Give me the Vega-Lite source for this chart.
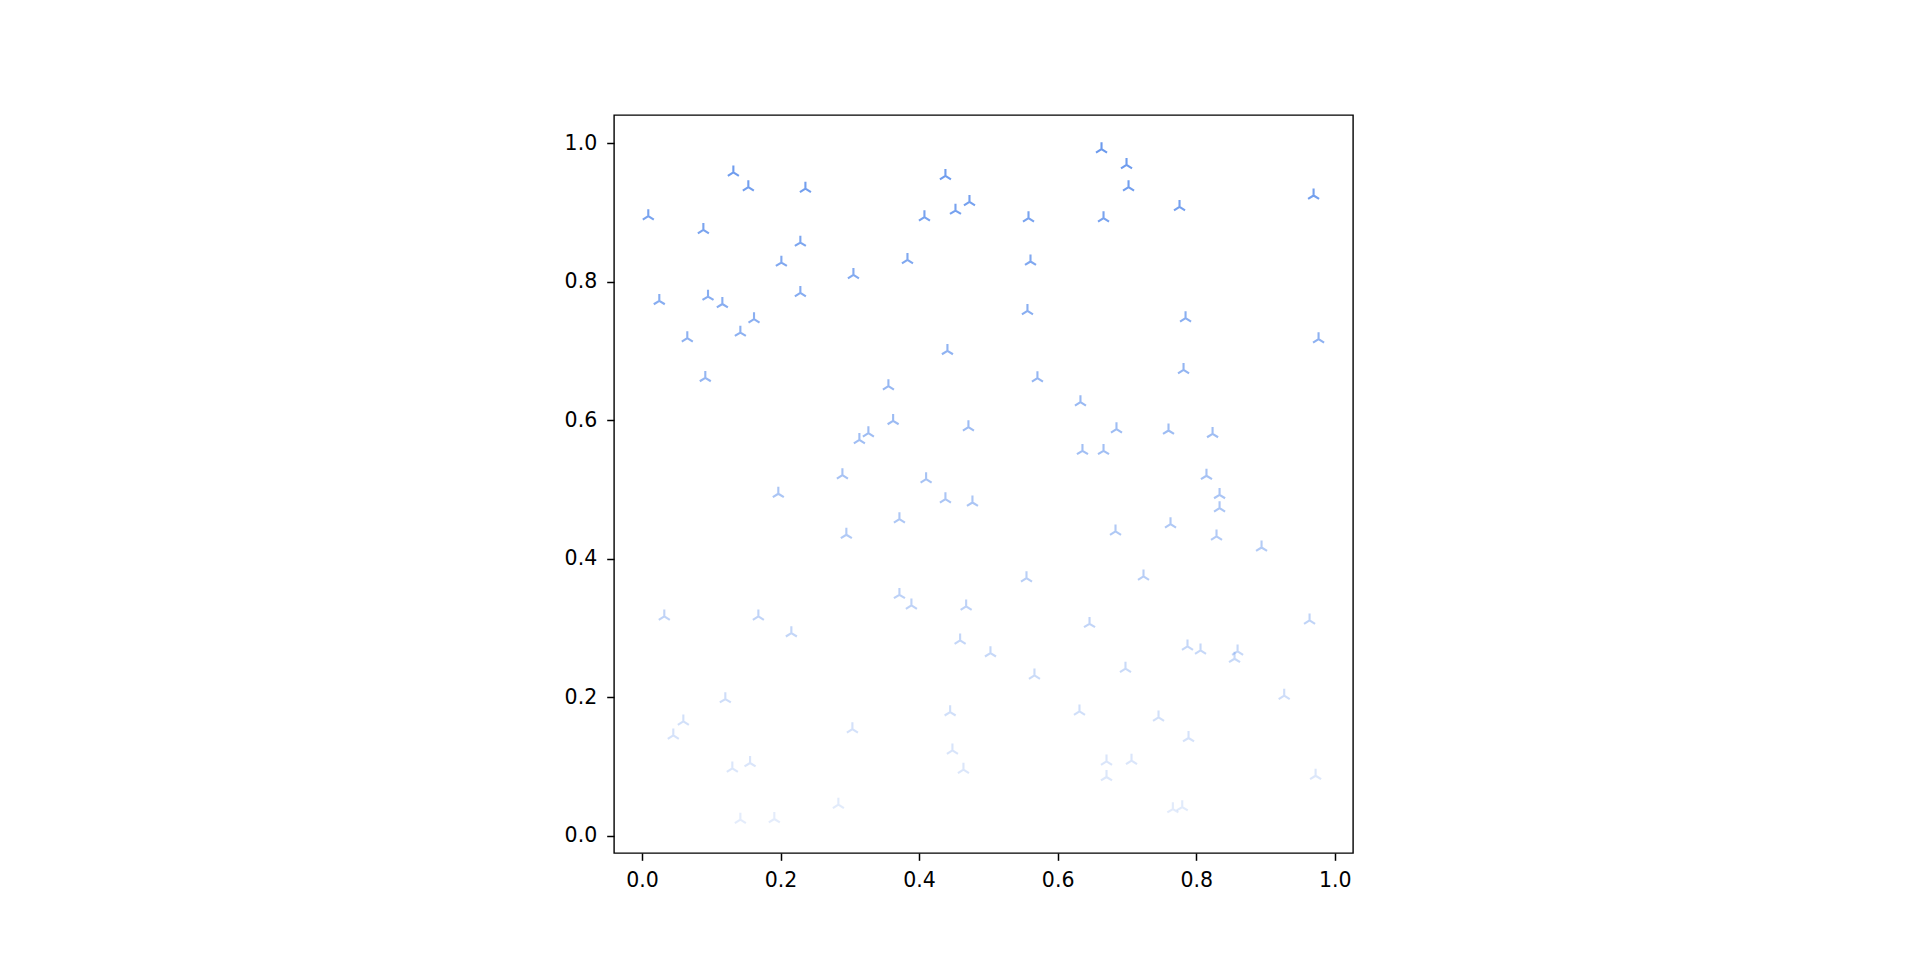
{
  "$schema": "https://vega.github.io/schema/vega-lite/v6.json",
  "width": 739,
  "height": 738,
  "autosize": "none",
  "padding": {"left": 614, "top": 115, "right": 567, "bottom": 107},
  "background": "white",
  "config": {
    "view": {"stroke": "black", "strokeWidth": 1.4},
    "axis": {
      "grid": false,
      "domain": false,
      "labelFont": "DejaVu Sans",
      "labelFontSize": 20.5,
      "labelColor": "black",
      "tickColor": "black",
      "tickSize": 7.3,
      "tickWidth": 1.5,
      "labelPadding": 10,
      "title": null
    }
  },
  "data": {
    "values": [
      {"x": 0.0091, "y": 0.895}, {"x": 0.1319, "y": 0.958}, {"x": 0.1535, "y": 0.9367}, {"x": 0.2359, "y": 0.9347},
      {"x": 0.0886, "y": 0.875}, {"x": 0.2286, "y": 0.8568}, {"x": 0.2012, "y": 0.8279}, {"x": 0.3052, "y": 0.810},
      {"x": 0.3832, "y": 0.8318}, {"x": 0.438, "y": 0.953}, {"x": 0.4077, "y": 0.8934}, {"x": 0.4525, "y": 0.903},
      {"x": 0.4727, "y": 0.9155}, {"x": 0.025, "y": 0.7726}, {"x": 0.0953, "y": 0.7788}, {"x": 0.116, "y": 0.768},
      {"x": 0.2286, "y": 0.784}, {"x": 0.1617, "y": 0.746}, {"x": 0.142, "y": 0.7268}, {"x": 0.0654, "y": 0.7187},
      {"x": 0.0914, "y": 0.6614}, {"x": 0.4409, "y": 0.7004}, {"x": 0.3557, "y": 0.6494}, {"x": 0.3625, "y": 0.5993},
      {"x": 0.3268, "y": 0.5815}, {"x": 0.3138, "y": 0.5718}, {"x": 0.4712, "y": 0.5902}, {"x": 0.2893, "y": 0.5208},
      {"x": 0.4101, "y": 0.515}, {"x": 0.6633, "y": 0.9916}, {"x": 0.6994, "y": 0.969}, {"x": 0.7023, "y": 0.9367},
      {"x": 0.7759, "y": 0.9083}, {"x": 0.9694, "y": 0.9247}, {"x": 0.5579, "y": 0.892}, {"x": 0.6662, "y": 0.892},
      {"x": 0.5608, "y": 0.8294}, {"x": 0.5564, "y": 0.7581}, {"x": 0.7846, "y": 0.7476}, {"x": 0.9766, "y": 0.7172},
      {"x": 0.7817, "y": 0.6729}, {"x": 0.5708, "y": 0.661}, {"x": 0.6329, "y": 0.6263}, {"x": 0.6849, "y": 0.5872},
      {"x": 0.76, "y": 0.5853}, {"x": 0.8236, "y": 0.5805}, {"x": 0.6358, "y": 0.556}, {"x": 0.6662, "y": 0.556},
      {"x": 0.8148, "y": 0.5199}, {"x": 0.1968, "y": 0.4939}, {"x": 0.438, "y": 0.4862}, {"x": 0.477, "y": 0.4813},
      {"x": 0.3716, "y": 0.4573}, {"x": 0.295, "y": 0.4347}, {"x": 0.0322, "y": 0.3167}, {"x": 0.168, "y": 0.3167},
      {"x": 0.2156, "y": 0.2927}, {"x": 0.3716, "y": 0.348}, {"x": 0.3889, "y": 0.3326}, {"x": 0.4679, "y": 0.3311},
      {"x": 0.4592, "y": 0.282}, {"x": 0.503, "y": 0.2638}, {"x": 0.1203, "y": 0.1974}, {"x": 0.0597, "y": 0.165},
      {"x": 0.0452, "y": 0.1448}, {"x": 0.3037, "y": 0.154}, {"x": 0.1304, "y": 0.0972}, {"x": 0.156, "y": 0.105},
      {"x": 0.4448, "y": 0.1786}, {"x": 0.4481, "y": 0.1232}, {"x": 0.464, "y": 0.0953}, {"x": 0.2835, "y": 0.0448},
      {"x": 0.142, "y": 0.0231}, {"x": 0.191, "y": 0.0241}, {"x": 0.8337, "y": 0.4924}, {"x": 0.8337, "y": 0.4732},
      {"x": 0.7629, "y": 0.4501}, {"x": 0.6835, "y": 0.4395}, {"x": 0.8293, "y": 0.4322}, {"x": 0.8943, "y": 0.4163},
      {"x": 0.555, "y": 0.3721}, {"x": 0.7239, "y": 0.3745}, {"x": 0.646, "y": 0.3061}, {"x": 0.9636, "y": 0.3109},
      {"x": 0.5665, "y": 0.2315}, {"x": 0.6979, "y": 0.2412}, {"x": 0.7874, "y": 0.2734}, {"x": 0.8062, "y": 0.2676},
      {"x": 0.8597, "y": 0.2662}, {"x": 0.8553, "y": 0.2556}, {"x": 0.927, "y": 0.2022}, {"x": 0.6315, "y": 0.1795},
      {"x": 0.7456, "y": 0.1708}, {"x": 0.7889, "y": 0.1411}, {"x": 0.6705, "y": 0.1073}, {"x": 0.7066, "y": 0.1083},
      {"x": 0.6705, "y": 0.0848}, {"x": 0.9723, "y": 0.0866}, {"x": 0.7663, "y": 0.0385}, {"x": 0.7798, "y": 0.0414}
    ]
  },
  "mark": {
    "type": "point",
    "shape": "M0,0L0,-1M0,0L0.8,0.5M0,0L-0.8,0.5",
    "filled": false,
    "stroke": "#6495ED",
    "strokeWidth": 2.1,
    "size": 190
  },
  "encoding": {
    "x": {
      "field": "x", "type": "quantitative",
      "scale": {"domain": [-0.0404, 1.0263], "nice": false, "zero": false},
      "axis": {"values": [0, 0.2, 0.4, 0.6, 0.8, 1.0], "format": ".1f"}
    },
    "y": {
      "field": "y", "type": "quantitative",
      "scale": {"domain": [-0.025, 1.041], "nice": false, "zero": false},
      "axis": {"values": [0, 0.2, 0.4, 0.6, 0.8, 1.0], "format": ".1f"}
    },
    "opacity": {
      "field": "y", "type": "quantitative",
      "scale": {"domain": [0, 1], "range": [0.15, 0.95]},
      "legend": null
    }
  }
}
